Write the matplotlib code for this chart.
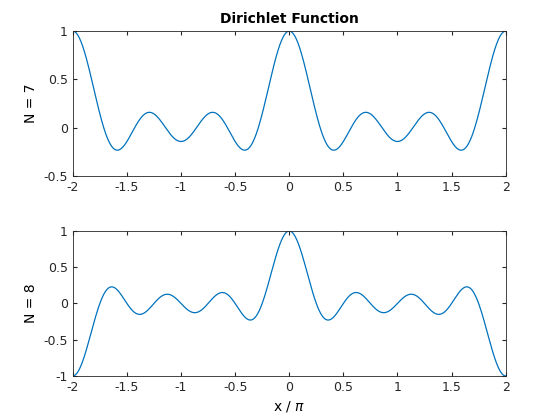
import numpy as np
import matplotlib
matplotlib.use("Agg")
import matplotlib.pyplot as plt

plt.rcParams['font.family'] = ['DejaVu Sans']
plt.rcParams['font.size'] = 9

# x in units of pi; Dirichlet (periodic sinc) function values
x_over_pi = np.linspace(-2, 2, 801)
orders = [7, 8]
ylims = [(-0.5, 1), (-1, 1)]
yticks = [[-0.5, 0, 0.5, 1], [-1, -0.5, 0, 0.5, 1]]
xticks = [-2, -1.5, -1, -0.5, 0, 0.5, 1, 1.5, 2]

def diric(x, n):
    s = np.sin(x / 2)
    out = np.empty_like(x)
    small = np.abs(s) < 1e-12
    out[~small] = np.sin(n * x[~small] / 2) / (n * s[~small])
    k = np.round(x[small] / (2 * np.pi))
    out[small] = (-1.0) ** (k * (n - 1))
    return out

fig = plt.figure(figsize=(5.6, 4.2), dpi=100)
positions = [[0.130, 0.581, 0.773, 0.345], [0.130, 0.105, 0.773, 0.345]]
for i, n in enumerate(orders):
    ax = fig.add_axes(positions[i])
    ax.plot(x_over_pi, diric(x_over_pi * np.pi, n), color='#0072BD', lw=0.9)
    ax.set_xlim(-2, 2)
    ax.set_ylim(*ylims[i])
    ax.set_xticks(xticks)
    ax.set_xticklabels([f"{t:g}" for t in xticks])
    ax.set_yticks(yticks[i])
    ax.set_yticklabels([f"{t:g}" for t in yticks[i]])
    ax.tick_params(direction='in', top=True, right=True, length=3, colors='#262626')
    for sp in ax.spines.values():
        sp.set_color('#262626'); sp.set_linewidth(0.6)
    ax.set_ylabel(f"N = {n}", fontsize=10)
    if i == 0:
        ax.set_title("Dirichlet Function", fontweight='bold', fontsize=10)
    else:
        ax.set_xlabel("x / $\\pi$", fontsize=10)

fig.savefig("out.png", dpi=100)
